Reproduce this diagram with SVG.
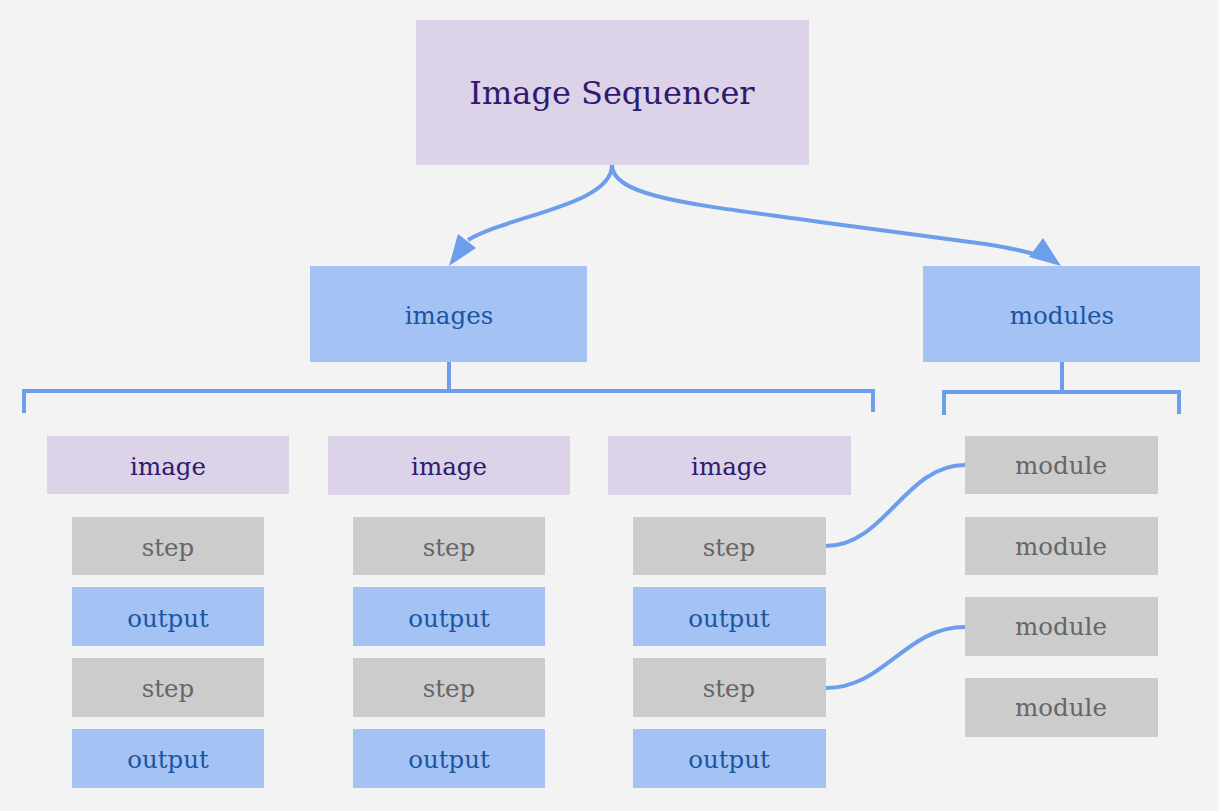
<svg xmlns="http://www.w3.org/2000/svg" width="1219" height="811" viewBox="0 0 1219 811">
<style>
text{font-family:"DejaVu Serif","Liberation Serif",serif;text-anchor:middle;dominant-baseline:central}
.p{fill:#dcd3e9}.b{fill:#a4c2f4}.g{fill:#cccccc}
.tp{fill:#2e1a6e;font-size:24.5px}.tb{fill:#1a55a0;font-size:24.5px}.tg{fill:#666666;font-size:24.5px}
.c{fill:none;stroke:#6d9eeb;stroke-width:4}
.h{fill:#6d9eeb}
</style>
<rect width="1219" height="811" fill="#f3f3f3"/>
<g id="title"><rect class="p" x="416" y="20" width="393" height="145"/><text class="tp" x="612" y="93" style="font-size:32px">Image Sequencer</text></g>
<g id="images"><rect class="b" x="310" y="266" width="277" height="96"/><text class="tb" x="449" y="315">images</text></g>
<g id="modules"><rect class="b" x="923" y="266" width="277" height="96"/><text class="tb" x="1062" y="315">modules</text></g>
<g id="image1"><rect class="p" x="47" y="436" width="242" height="58"/><text class="tp" x="168" y="466">image</text></g>
<g id="image2"><rect class="p" x="328" y="436" width="242" height="59"/><text class="tp" x="449" y="466">image</text></g>
<g id="image3"><rect class="p" x="608" y="436" width="243" height="59"/><text class="tp" x="729" y="466">image</text></g>
<g id="c1"><rect class="g" x="72" y="517" width="192" height="58"/><text class="tg" x="168" y="547">step</text>
<rect class="b" x="72" y="587" width="192" height="59"/><text class="tb" x="168" y="618">output</text>
<rect class="g" x="72" y="658" width="192" height="59"/><text class="tg" x="168" y="688">step</text>
<rect class="b" x="72" y="729" width="192" height="59"/><text class="tb" x="168" y="759">output</text></g>
<g id="c2"><rect class="g" x="353" y="517" width="192" height="58"/><text class="tg" x="449" y="547">step</text>
<rect class="b" x="353" y="587" width="192" height="59"/><text class="tb" x="449" y="618">output</text>
<rect class="g" x="353" y="658" width="192" height="59"/><text class="tg" x="449" y="688">step</text>
<rect class="b" x="353" y="729" width="192" height="59"/><text class="tb" x="449" y="759">output</text></g>
<g id="c3"><rect class="g" x="633" y="517" width="193" height="58"/><text class="tg" x="729" y="547">step</text>
<rect class="b" x="633" y="587" width="193" height="59"/><text class="tb" x="729" y="618">output</text>
<rect class="g" x="633" y="658" width="193" height="59"/><text class="tg" x="729" y="688">step</text>
<rect class="b" x="633" y="729" width="193" height="59"/><text class="tb" x="729" y="759">output</text></g>
<g id="mods"><rect class="g" x="965" y="436" width="193" height="58"/><text class="tg" x="1061" y="465">module</text>
<rect class="g" x="965" y="517" width="193" height="58"/><text class="tg" x="1061" y="546">module</text>
<rect class="g" x="965" y="597" width="193" height="59"/><text class="tg" x="1061" y="626">module</text>
<rect class="g" x="965" y="678" width="193" height="59"/><text class="tg" x="1061" y="707">module</text></g>
<g id="connectors">
<path class="c" d="M612,165 C612,205 510,215 468,240"/>
<polygon class="h" points="449,266 458,234 476,248"/>
<path class="c" d="M612,165 C612,198 700,205 820,222 L985,244 C1010,248 1025,251 1037,255"/>
<polygon class="h" points="1061,266 1043,238 1029,257"/>
<path class="c" d="M449,362 V391 M24,413 V391 H873 V412"/>
<path class="c" d="M1062,362 V392 M944,415 V392 H1179 V414"/>
<path class="c" d="M826,546 C885,546 905,465 965,465"/>
<path class="c" d="M826,688 C885,688 905,627 965,627"/>
</g>
</svg>
